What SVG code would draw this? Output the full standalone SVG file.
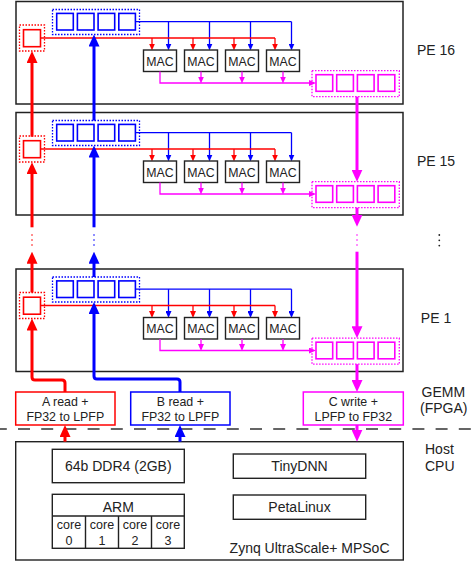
<svg xmlns="http://www.w3.org/2000/svg" width="474" height="562" viewBox="0 0 474 562">
<style>
text{font-family:"Liberation Sans",Arial,sans-serif;fill:#222}
.lbl{font-size:14px}
.mt{font-size:12.3px;text-anchor:middle}
.bt{font-size:12.4px;text-anchor:middle}
.ht{font-size:14px;text-anchor:middle}
.ct{font-size:12.5px;text-anchor:middle}
.pe{fill:#fff;stroke:#222;stroke-width:1.5}
.mac{fill:#fff;stroke:#222;stroke-width:1.4}
.box{fill:#fff;stroke:#222;stroke-width:1.4}
.rsq{fill:none;stroke:#f00;stroke-width:1.6}
.bsq{fill:none;stroke:#00f;stroke-width:1.6}
.msq{fill:none;stroke:#f0f;stroke-width:1.6}
.rdot{fill:none;stroke:#f00;stroke-width:1.3;stroke-dasharray:1.5 1.5}
.bdot{fill:none;stroke:#00f;stroke-width:1.3;stroke-dasharray:1.5 1.5}
.mdot{fill:none;stroke:#f0f;stroke-width:1.3;stroke-dasharray:1.5 1.5}
.rs{fill:none;stroke:#f00;stroke-width:1.3}
.bs{fill:none;stroke:#00f;stroke-width:1.3}
.ms{fill:none;stroke:#f0f;stroke-width:1.3}
.rt{fill:none;stroke:#f00;stroke-width:3}
.bt3{fill:none;stroke:#00f;stroke-width:3}
.mt3{fill:none;stroke:#f0f;stroke-width:3}
</style>
<defs>
<marker id="rS" markerUnits="userSpaceOnUse" viewBox="0 0 7 6" markerWidth="7" markerHeight="6" refX="0.5" refY="3" orient="auto"><path d="M0,0L7,3L0,6z" fill="#f00"/></marker>
<marker id="bS" markerUnits="userSpaceOnUse" viewBox="0 0 7 6" markerWidth="7" markerHeight="6" refX="0.5" refY="3" orient="auto"><path d="M0,0L7,3L0,6z" fill="#00f"/></marker>
<marker id="mS" markerUnits="userSpaceOnUse" viewBox="0 0 7 6" markerWidth="7" markerHeight="6" refX="0.5" refY="3" orient="auto"><path d="M0,0L7,3L0,6z" fill="#f0f"/></marker>
<marker id="rB" markerUnits="userSpaceOnUse" viewBox="0 0 12 11" markerWidth="12" markerHeight="11" refX="1" refY="5.5" orient="auto"><path d="M0,0L12,5.5L0,11z" fill="#f00"/></marker>
<marker id="bB" markerUnits="userSpaceOnUse" viewBox="0 0 12 11" markerWidth="12" markerHeight="11" refX="1" refY="5.5" orient="auto"><path d="M0,0L12,5.5L0,11z" fill="#00f"/></marker>
<marker id="mB" markerUnits="userSpaceOnUse" viewBox="0 0 12 11" markerWidth="12" markerHeight="11" refX="1" refY="5.5" orient="auto"><path d="M0,0L12,5.5L0,11z" fill="#f0f"/></marker>
<g id="peBody">
<rect class="pe" x="16" y="1.5" width="387" height="102.5"/>
<rect class="rdot" x="19.5" y="25" width="25" height="26"/>
<rect class="rsq" x="23.5" y="29.7" width="17" height="17"/>
<rect class="bdot" x="52.5" y="9.5" width="87" height="25"/>
<rect class="bsq" x="56.7" y="13.4" width="16.6" height="16.6"/>
<rect class="bsq" x="77.4" y="13.4" width="16.6" height="16.6"/>
<rect class="bsq" x="98.1" y="13.4" width="16.6" height="16.6"/>
<rect class="bsq" x="118.8" y="13.4" width="16.6" height="16.6"/>
<path class="bs" d="M135.4,21.7H291.5"/>
<path class="bs" d="M168.5,21.7V44" marker-end="url(#bS)"/>
<path class="bs" d="M209.5,21.7V44" marker-end="url(#bS)"/>
<path class="bs" d="M250.5,21.7V44" marker-end="url(#bS)"/>
<path class="bs" d="M291.5,21.7V44" marker-end="url(#bS)"/>
<path class="rs" d="M40.5,38H275"/>
<path class="rs" d="M152,38V44" marker-end="url(#rS)"/>
<path class="rs" d="M193,38V44" marker-end="url(#rS)"/>
<path class="rs" d="M234,38V44" marker-end="url(#rS)"/>
<path class="rs" d="M275,38V44" marker-end="url(#rS)"/>
<rect class="mac" x="143.5" y="50" width="33" height="21.5"/>
<rect class="mac" x="184.5" y="50" width="33" height="21.5"/>
<rect class="mac" x="225.5" y="50" width="33" height="21.5"/>
<rect class="mac" x="266.5" y="50" width="33" height="21.5"/>
<text class="mt" x="160" y="65.5">MAC</text>
<text class="mt" x="201" y="65.5">MAC</text>
<text class="mt" x="242" y="65.5">MAC</text>
<text class="mt" x="283" y="65.5">MAC</text>
<path class="ms" d="M160,71.5V83H309.5" marker-end="url(#mS)"/>
<path class="ms" d="M201,71.5V77" marker-end="url(#mS)"/>
<path class="ms" d="M242,71.5V77" marker-end="url(#mS)"/>
<path class="ms" d="M283,71.5V77" marker-end="url(#mS)"/>
<rect class="mdot" x="312" y="70.7" width="87.3" height="26"/>
<rect class="msq" x="316" y="74.7" width="16.7" height="16.6"/>
<rect class="msq" x="336.7" y="74.7" width="16.7" height="16.6"/>
<rect class="msq" x="357.4" y="74.7" width="16.7" height="16.6"/>
<rect class="msq" x="378.1" y="74.7" width="16.7" height="16.6"/>
</g>
</defs>
<g id="pe16"><use href="#peBody"/><text class="lbl" x="436" y="55" text-anchor="middle">PE 16</text></g>
<g id="pe15" transform="translate(0,111)"><use href="#peBody"/><text class="lbl" x="436" y="55" text-anchor="middle">PE 15</text></g>
<g id="pe1" transform="translate(0,267.5)"><use href="#peBody"/><text class="lbl" x="436" y="55" text-anchor="middle">PE 1</text></g>
<g id="gemm-a"><rect x="15.7" y="392" width="99.3" height="33" fill="#fff" stroke="#f00" stroke-width="1.5"/><text class="bt" x="65.3" y="406">A read +</text><text class="bt" x="65.3" y="420.5">FP32 to LPFP</text></g>
<g id="gemm-b"><rect x="130.7" y="392" width="99.3" height="33" fill="#fff" stroke="#00f" stroke-width="1.5"/><text class="bt" x="180.3" y="406">B read +</text><text class="bt" x="180.3" y="420.5">FP32 to LPFP</text></g>
<g id="gemm-c"><rect x="303.3" y="392" width="100" height="33" fill="#fff" stroke="#f0f" stroke-width="1.5"/><text class="bt" x="353.3" y="406">C write +</text><text class="bt" x="353.3" y="420.5">LPFP to FP32</text></g>
<g id="gemm-label"><text class="lbl" x="421.5" y="397">GEMM</text><text class="lbl" x="420" y="413">(FPGA)</text></g>
<g id="host">
<rect class="box" x="15.7" y="441.7" width="387.6" height="118.3"/>
<rect class="box" x="52.3" y="449.3" width="132" height="33.4"/>
<text class="ht" x="118.3" y="471">64b DDR4 (2GB)</text>
<rect class="box" x="233.3" y="454" width="132.4" height="24.3"/>
<text class="ht" x="299.5" y="470.5">TinyDNN</text>
<rect class="box" x="233.3" y="495" width="132.4" height="24.3"/>
<text class="ht" x="299.5" y="512">PetaLinux</text>
<rect class="box" x="52.3" y="494.3" width="132" height="54"/>
<path d="M52.3,516H184.3M85.5,516V548.3M118.5,516V548.3M151.5,516V548.3" stroke="#222" stroke-width="1.4" fill="none"/>
<text class="ht" x="118.3" y="511.5">ARM</text>
<text class="ct" x="69" y="529">core</text><text class="ct" x="69" y="544.5">0</text>
<text class="ct" x="102" y="529">core</text><text class="ct" x="102" y="544.5">1</text>
<text class="ct" x="135" y="529">core</text><text class="ct" x="135" y="544.5">2</text>
<text class="ct" x="168" y="529">core</text><text class="ct" x="168" y="544.5">3</text>
<text class="lbl" x="389.5" y="552.5" text-anchor="end">Zynq UltraScale+ MPSoC</text>
</g>
<g id="host-label"><text class="lbl" x="425" y="453.5">Host</text><text class="lbl" x="425" y="471">CPU</text></g>
<g id="connectors">
<path d="M0,429H474" stroke="#333" stroke-width="1.6" stroke-dasharray="12 11.2" stroke-dashoffset="5.2" fill="none"/>
<path class="rt" d="M32,136.7V62" marker-end="url(#rB)"/>
<path class="rt" d="M32,227.3V173.2" marker-end="url(#rB)"/>
<path class="rt" d="M32,292.5V262.7" marker-end="url(#rB)"/>
<path class="rt" d="M65,392V383Q65,380 62,380H35Q32,380 32,377V329.5" marker-end="url(#rB)"/>
<path class="rt" d="M65,441.7V436" marker-end="url(#rB)"/>
<path class="bt3" d="M94,120.5V45.5" marker-end="url(#bB)"/>
<path class="bt3" d="M94,227.3V156.5" marker-end="url(#bB)"/>
<path class="bt3" d="M94,277V262.7" marker-end="url(#bB)"/>
<path class="bt3" d="M180,392V382Q180,379 177,379H97Q94,379 94,376V313" marker-end="url(#bB)"/>
<path class="bt3" d="M180,441.7V436" marker-end="url(#bB)"/>
<path class="mt3" d="M357,96.7V170.7" marker-end="url(#mB)"/>
<path class="mt3" d="M357,207.7V215.7" marker-end="url(#mB)"/>
<path class="mt3" d="M357,251.7V327.2" marker-end="url(#mB)"/>
<path class="mt3" d="M357,364.2V381" marker-end="url(#mB)"/>
<path class="mt3" d="M357,425V430.7" marker-end="url(#mB)"/>
<g fill="#f00"><circle cx="32" cy="235" r="0.8"/><circle cx="32" cy="240" r="0.8"/><circle cx="32" cy="245" r="0.8"/></g>
<g fill="#00f"><circle cx="94" cy="235" r="0.8"/><circle cx="94" cy="240" r="0.8"/><circle cx="94" cy="245" r="0.8"/></g>
<g fill="#f0f"><circle cx="357" cy="235" r="0.8"/><circle cx="357" cy="240" r="0.8"/><circle cx="357" cy="245" r="0.8"/></g>
<g fill="#222"><circle cx="439.3" cy="235" r="0.9"/><circle cx="439.3" cy="240.3" r="0.9"/><circle cx="439.3" cy="245.6" r="0.9"/></g>
</g>
</svg>
